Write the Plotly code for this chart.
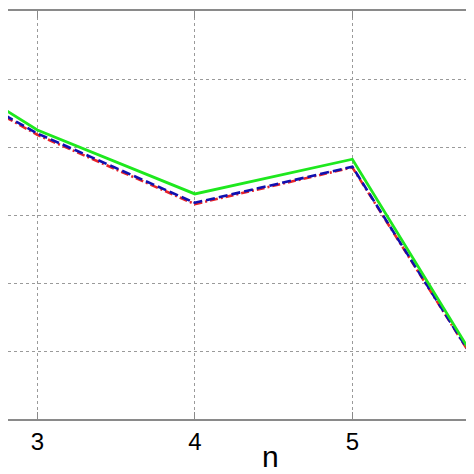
import plotly.graph_objects as go

# values (y in grid units, bottom of axes = 0)
n = [2, 3, 4, 5, 6]
green_vals = [5.70, 4.25, 3.31, 3.82, 0.04]
blue_vals = [5.49, 4.20, 3.18, 3.71, 0.035]
red_vals = [5.47, 4.18, 3.16, 3.70, 0.03]
x_ticks = [3, 4, 5]

fig = go.Figure()

# red dash-dot underneath, blue dashes over it, green solid on top
fig.add_trace(go.Scatter(x=n, y=red_vals, mode='lines',
                         line=dict(color='#e8242a', width=2.6, dash='8px,3px,2px,3px')))
fig.add_trace(go.Scatter(x=n, y=blue_vals, mode='lines',
                         line=dict(color='#1010b0', width=2.6, dash='9px,4px')))
fig.add_trace(go.Scatter(x=n, y=green_vals, mode='lines',
                         line=dict(color='#1ee81e', width=2.8)))

# the page adds an 8px offset, so the ranges/margins compensate for it
fig.update_xaxes(range=[2.814, 5.823], tickvals=x_ticks, ticktext=[str(v) for v in x_ticks],
                 showgrid=True, gridcolor='#9a9a9a', griddash='dot', gridwidth=1,
                 showline=True, linecolor='#8a8a8a', linewidth=1.5, mirror='ticks',
                 ticks='inside', ticklen=7, tickcolor='#8a8a8a',
                 tickfont=dict(family='Liberation Sans', size=24, color='black'),
                 zeroline=False)
fig.update_yaxes(range=[0, 6], dtick=1, showticklabels=False,
                 showgrid=True, gridcolor='#9a9a9a', griddash='dot', gridwidth=1,
                 showline=False, zeroline=False, ticks='')

# axis label, sits right of the visible centre because the figure is cropped
fig.add_annotation(x=4.48, y=0, xref='x', yref='paper', yanchor='middle', yshift=-37,
                   text='n', showarrow=False,
                   font=dict(family='Liberation Sans', size=30, color='black'))

fig.update_layout(width=474, height=474, showlegend=False,
                  margin=dict(l=0, r=0, t=3, b=63),
                  plot_bgcolor='white', paper_bgcolor='white')

fig.write_html("out.html")
